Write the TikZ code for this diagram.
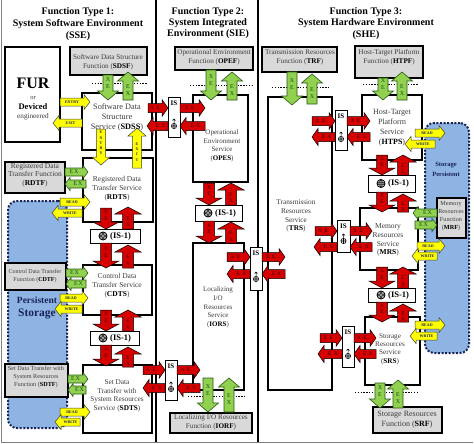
\documentclass[tikz,border=0pt]{standalone}
\usepackage{fontspec}
\setmainfont{Liberation Serif}
\definecolor{redA}{RGB}{215,0,0}
\definecolor{redT}{RGB}{60,0,0}
\definecolor{grnA}{RGB}{146,208,80}
\definecolor{grnD}{RGB}{40,90,20}
\definecolor{grnT}{RGB}{20,80,20}
\definecolor{yelA}{RGB}{255,255,0}
\definecolor{blueA}{RGB}{141,180,226}
\definecolor{navy}{RGB}{25,35,90}
\definecolor{grayF}{RGB}{217,217,217}
\definecolor{txt}{RGB}{60,60,60}
\newcommand\ab[1]{\textbf{\textcolor{black}{#1}}}
\newcommand\MkBox[6]{%
  \pgfmathsetmacro\bw{#5-#3}\pgfmathsetmacro\bh{#6-#4}%
  \node[#2, anchor=north west, minimum width=\bw pt, minimum height=\bh pt, inner sep=0pt, outer sep=0pt] (#1) at (#3,#4) {};%
}
\newcommand\HArrow[8]{%
  \pgfmathsetmacro\xb{#6-(#4)*sign(#6-#5)}%
  \pgfmathsetmacro\xm{(#5+\xb)/2}%
  \draw[#1] (#5,#7-#2) -- (\xb,#7-#2) -- (\xb,#7-#3) -- (#6,#7) -- (\xb,#7+#3) -- (\xb,#7+#2) -- (#5,#7+#2) -- cycle;%
  \node[#1 label] at (\xm,#7) {#8};%
}
\newcommand\VArrow[8]{%
  \pgfmathsetmacro\yb{#7-(#4)*sign(#7-#6)}%
  \pgfmathsetmacro\ym{(#6+\yb)/2}%
  \draw[#1] (#5-#2,#6) -- (#5-#2,\yb) -- (#5-#3,\yb) -- (#5,#7) -- (#5+#3,\yb) -- (#5+#2,\yb) -- (#5+#2,#6) -- cycle;%
  \node[#1 label] at (#5,\ym) {#8};%
}
\newcommand\RH[4]{\HArrow{redarr}{4.5}{8.5}{6}{#1}{#2}{#3}{#4}}
\newcommand\RV[4]{\VArrow{redarr}{5.5}{13}{7}{#1}{#2}{#3}{#4}}
\newcommand\GH[4]{\HArrow{grnarr}{4}{6.5}{5}{#1}{#2}{#3}{#4}}
\newcommand\GV[4]{\VArrow{grnarr}{5}{10.5}{9}{#1}{#2}{#3}{#4}}
\newcommand\YH[4]{\HArrow{yelarr}{4}{7.5}{6}{#1}{#2}{#3}{#4}}
\newcommand\YV[4]{\VArrow{yelarr}{4.5}{9}{8}{#1}{#2}{#3}{#4}}
\newcommand\ISbox[5]{%
  \MkBox{#1}{isbox}{#2}{#3}{#4}{#5}%
  \pgfmathsetmacro\cx{(#2+#4)/2}%
  \node[font=\bfseries\fontsize{7}{7}\selectfont, inner sep=0pt] at (\cx,#3+6) {IS};%
  \pgfmathsetmacro\cy{#5-11}%
  \draw[line width=0.6pt] (\cx,\cy) circle (2.6pt) (\cx-2.6,\cy) -- (\cx+2.6,\cy) (\cx,\cy-2.6) -- (\cx,\cy+2.6);%
  \draw[line width=0.5pt] (\cx,\cy-3) -- (\cx,\cy-7) (\cx-1.5,\cy-5.5) -- (\cx,\cy-7) -- (\cx+1.5,\cy-5.5);%
}
\newcommand\ISone[5]{%
  \MkBox{#1}{isbox}{#2}{#3}{#4}{#5}%
  \pgfmathsetmacro\cy{(#3+#5)/2}%
  \pgfmathsetmacro\sx{#2+13}%
  \draw[line width=0.9pt] (\sx,\cy) circle (4pt);%
  \foreach \dx/\dy in {0/-2,0/2,-2/0,2/0} \draw[line width=0.6pt] (\sx+\dx,\cy+\dy) circle (1.3pt);%
  \node[font=\bfseries\fontsize{8.5}{8.5}\selectfont, inner sep=0pt, anchor=west] at (#2+20,\cy) {(IS-1)};%
}
\begin{document}
\begin{tikzpicture}[x=1pt,y=-1pt,
  sbox/.style={draw=black, fill=white, line width=1.1pt},
  fbox/.style={draw=black, fill=grayF, line width=1.1pt},
  isbox/.style={draw=black, fill=white, line width=1pt},
  redarr/.style={draw=black, fill=redA, line width=0.5pt},
  redarr label/.style={font=\fontsize{5.5}{6.5}\selectfont, text=redT, align=center, inner sep=0pt},
  grnarr/.style={draw=grnD, fill=grnA, line width=0.6pt},
  grnarr label/.style={font=\fontsize{6}{7}\selectfont, text=grnT, align=center, inner sep=0pt},
  yelarr/.style={draw=black!75, fill=yelA, line width=0.5pt},
  yelarr label/.style={font=\bfseries\fontsize{4}{5.3}\selectfont, text=navy, align=center, inner sep=0pt},
  ttl/.style={font=\bfseries\fontsize{10}{12}\selectfont, inner sep=0pt},
  svc/.style={font=\fontsize{7.5}{9}\selectfont, text=txt, align=center, inner sep=0pt},
  fnt/.style={font=\fontsize{7.2}{9}\selectfont, text=txt, align=center, inner sep=0pt},
  dots/.style={line width=1pt, dash pattern=on 1.3pt off 1.5pt},
  store/.style={fill=blueA, draw=navy, line width=2pt, dash pattern=on 2pt off 1.6pt, rounded corners=9pt},
]
\useasboundingbox (0,0) rectangle (474,444);
% frame and column rules
\draw[black!50, line width=0.6pt] (1,0) -- (1,442) -- (473,442);
\draw[line width=1.5pt] (156,0) -- (156,442);
\draw[line width=1.5pt] (258,0) -- (258,442);
% storage regions
\MkBox{ps1}{store}{8}{201}{67}{428}
\MkBox{ps3}{store}{425}{123}{469}{353}
% titles
\node[ttl] (t1a) at (78,12) {Function Type 1:};
\node[ttl] (t1b) at (78,24) {System Software Environment};
\node[ttl] (t1c) at (78,36) {(SSE)};
\node[ttl] (t2a) at (208,12) {Function Type 2:};
\node[ttl] (t2b) at (208,23) {System Integrated};
\node[ttl] (t2c) at (208,34) {Environment (SIE)};
\node[ttl] (t3a) at (366,12) {Function Type 3:};
\node[ttl] (t3b) at (366,23.5) {System Hardware Environment};
\node[ttl] (t3c) at (366,35) {(SHE)};
% service boxes
\MkBox{fur}{sbox}{5}{47}{60}{142}
\MkBox{sdss}{sbox}{82}{93}{152}{150}
\MkBox{rdts}{sbox}{83}{158}{153}{222}
\MkBox{cdts}{sbox}{83}{265}{152}{315}
\MkBox{sdts}{sbox}{83}{365}{152}{433}
\MkBox{opes}{sbox}{193}{95}{248}{182}
\MkBox{iors}{sbox}{193}{243}{244}{390}
\MkBox{trs}{sbox}{268}{97}{332}{390}
\MkBox{htps}{sbox}{362}{95}{422}{160}
\MkBox{mrs}{sbox}{360}{208}{418}{270}
\MkBox{srs}{sbox}{365}{317}{420}{385}
% function boxes
\MkBox{sdsf}{fbox}{70}{47}{147}{75}
\MkBox{opef}{fbox}{175}{47}{253}{70}
\MkBox{trf}{fbox}{262}{47}{337}{72}
\MkBox{htpf}{fbox}{355}{46}{423}{78}
\MkBox{rdtf}{fbox}{5}{162}{65}{193}
\MkBox{cdtf}{fbox}{5}{263}{66}{290}
\MkBox{sdtf}{fbox}{5}{364}{68}{397}
\MkBox{mrf}{fbox}{437}{198}{466}{238}
\MkBox{iorf}{fbox}{170}{413}{252}{433}
\MkBox{srf}{fbox}{373}{407}{442}{433}
% dotted boundaries
\draw[dots] (92,84) -- (147,84);
\draw[dots] (190,86) -- (252,86);
\draw[dots] (272,88) -- (330,88);
\draw[dots] (363,85) -- (418,85);
\draw[dots] (188,396) -- (245,396);
\draw[dots] (355,392) -- (418,392);
% IS and IS-1 boxes
\ISbox{is1}{168}{97}{180}{137}
\ISbox{is2}{165}{360}{177}{400}
\ISbox{is3}{250}{247}{262}{290}
\ISbox{is4}{335}{110}{347}{150}
\ISbox{is5}{337}{220}{350}{252}
\ISbox{is6}{342}{326}{354}{367}
\ISone{isa}{90}{229}{140}{243}
\ISone{isb}{90}{331}{139}{345}
\ISone{isc}{195}{205}{242}{221}
\ISone{isd}{368}{175}{415}{192}
\ISone{ise}{368}{288}{415}{302}
% green arrows
\GV{108}{75}{100}{X\\E}\GV{128}{100}{72}{E\\X}
\GV{211}{70}{100}{X\\E}\GV{232}{100}{72}{E\\X}
\GV{292}{72}{105}{X\\E}\GV{312}{104}{74}{E\\X}
\GV{383}{78}{100}{X\\E}\GV{402}{100}{72}{E\\X}
\GV{208}{378}{412}{X\\E}\GV{229}{412}{378}{E\\X}
\GV{380}{383}{408}{X\\E}\GV{398}{408}{380}{E\\X}
\GH{65}{88}{172}{E\,X}\GH{86}{65}{184}{E\,X}
\GH{66}{88}{273}{E\,X}\GH{86}{66}{284}{E\,X}
\GH{68}{88}{379}{E\,X}\GH{86}{68}{390}{E\,X}
\GH{437}{413}{213}{E\,X}\GH{415}{437}{225}{E\,X}
% red arrows, vertical
\RV{106}{208}{229}{X\\E}\RV{128}{229}{207}{E\\X}
\RV{106}{243}{268}{X\\E}\RV{128}{268}{245}{E\\X}
\RV{106}{310}{331}{X\\E}\RV{128}{331}{310}{E\\X}
\RV{106}{345}{366}{X\\E}\RV{128}{367}{347}{E\\X}
\RV{209}{183}{205}{X\\E}\RV{231}{205}{183}{E\\X}
\RV{209}{221}{243}{X\\E}\RV{231}{243}{222}{E\\X}
\RV{382}{155}{175}{X\\E}\RV{403}{175}{155}{E\\X}
\RV{382}{192}{212}{X\\E}\RV{403}{212}{194}{E\\X}
\RV{382}{267}{288}{X\\E}\RV{403}{288}{267}{E\\X}
\RV{382}{302}{322}{X\\E}\RV{403}{322}{304}{E\\X}
% red arrows, horizontal
\RH{148}{168}{108}{X\hspace{2.5pt}E}\RH{168}{147}{126}{E\hspace{2.5pt}X}
\RH{180}{205}{108}{X\hspace{2.5pt}E}\RH{205}{180}{126}{E\hspace{2.5pt}X}
\RH{143}{165}{370}{X\hspace{2.5pt}E}\RH{165}{143}{388}{E\hspace{2.5pt}X}
\RH{177}{200}{370}{X\hspace{2.5pt}E}\RH{200}{177}{388}{E\hspace{2.5pt}X}
\RH{227}{250}{257}{X\hspace{2.5pt}E}\RH{250}{227}{274}{E\hspace{2.5pt}X}
\RH{262}{285}{257}{X\hspace{2.5pt}E}\RH{285}{262}{274}{E\hspace{2.5pt}X}
\RH{312}{335}{121}{X\hspace{2.5pt}E}\RH{335}{312}{137}{E\hspace{2.5pt}X}
\RH{347}{370}{121}{X\hspace{2.5pt}E}\RH{370}{347}{137}{E\hspace{2.5pt}X}
\RH{315}{337}{231}{X\hspace{2.5pt}E}\RH{337}{314}{247}{E\hspace{2.5pt}X}
\RH{350}{372}{231}{X\hspace{2.5pt}E}\RH{372}{350}{247}{E\hspace{2.5pt}X}
\RH{320}{342}{338}{X\hspace{2.5pt}E}\RH{342}{318}{354}{E\hspace{2.5pt}X}
\RH{354}{376}{338}{X\hspace{2.5pt}E}\RH{376}{354}{354}{E\hspace{2.5pt}X}
% yellow arrows
\YH{60}{90}{102}{ENTRY}\YH{82}{53}{123}{EXIT}
\YV{101}{129}{165}{E\\N\\T\\R\\Y}\YV{137}{168}{128}{E\\X\\I\\T}
\YH{60}{90}{202}{READ}\YH{82}{52}{213}{WRITE}
\YH{60}{88}{298}{READ}\YH{82}{55}{309}{WRITE}
\YH{60}{90}{412}{READ}\YH{80}{55}{422}{WRITE}
\YH{415}{445}{133}{READ}\YH{435}{405}{144}{WRITE}
\YH{417}{445}{246}{READ}\YH{437}{412}{256}{WRITE}
\YH{415}{445}{325}{READ}\YH{437}{410}{336}{WRITE}
% texts
\node[inner sep=0pt, font=\bfseries\fontsize{16}{16}\selectfont] (furT) at (33,83) {FUR};
\node[inner sep=0pt, font=\fontsize{6.5}{7}\selectfont, text=txt] (orT) at (33,98) {or};
\node[inner sep=0pt, font=\bfseries\fontsize{8.5}{9}\selectfont] (devT) at (33,107) {Deviced};
\node[inner sep=0pt, font=\fontsize{7.2}{8}\selectfont, text=txt] (engT) at (33,117) {engineered};
\node[svc, font=\fontsize{8.3}{10}\selectfont] (sdssT) at (117,117) {Software Data\\Structure\\Service (\ab{SDSS})};
\node[svc] (rdtsT) at (117,189) {Registered Data\\Transfer Service\\(\ab{RDTS})};
\node[svc] (cdtsT) at (117,286) {Control Data\\Transfer Service\\(\ab{CDTS})};
\node[svc, font=\fontsize{7.3}{8.5}\selectfont] (sdtsT) at (117,396) {Set Data\\Transfer with\\System Resources\\Service (\ab{SDTS})};
\node[svc, font=\fontsize{7}{8.5}\selectfont] (opesT) at (222,146) {Operational\\Environment\\Service\\(\ab{OPES})};
\node[svc, font=\fontsize{7}{8.7}\selectfont] (iorsT) at (218,307.5) {Localizing\\I/O\\Resources\\Service\\(\ab{IORS})};
\node[svc, font=\fontsize{7.3}{8.8}\selectfont] (trsT) at (296,216) {Transmission\\Resources\\Service\\(\ab{TRS})};
\node[svc, font=\fontsize{8}{10}\selectfont] (htpsT) at (392,128) {Host-Target\\Platform\\Service\\(\ab{HTPS})};
\node[svc, font=\fontsize{7.5}{8.8}\selectfont] (mrsT) at (388,240) {Memory\\Resources\\Service\\(\ab{MRS})};
\node[svc, font=\fontsize{7.2}{8.4}\selectfont] (srsT) at (390,349) {Storage\\Resources\\Service\\(\ab{SRS})};
\node[fnt] (sdsfT) at (108,62) {Software Data Structure\\Function (\ab{SDSF})};
\node[fnt] (opefT) at (214,57) {Operational Environment\\Function (\ab{OPEF})};
\node[fnt] (trfT) at (300,57) {Transmission Resources\\Function (\ab{TRF})};
\node[fnt] (htpfT) at (389,57) {Host-Target Platform\\Function (\ab{HTPF})};
\node[fnt, font=\fontsize{7.5}{8.8}\selectfont] (rdtfT) at (35,175) {Registered Data\\Transfer Function\\(\ab{RDTF})};
\node[fnt, font=\fontsize{6}{8.5}\selectfont] (cdtfT) at (35,276) {Control Data Transfer\\Function (\ab{CDTF})};
\node[fnt, font=\fontsize{6.2}{8}\selectfont] (sdtfT) at (36,377) {Set Data Transfer with\\System Resources\\Function (\ab{SDTF})};
\node[fnt, font=\fontsize{6.2}{8}\selectfont] (mrfT) at (451,216) {Memory\\Resources\\Function\\(\ab{MRF})};
\node[fnt] (iorfT) at (211,422.5) {Localizing I/O Resources\\Function (\ab{IORF})};
\node[fnt, font=\fontsize{8}{10}\selectfont] (srfT) at (407,419.5) {Storage Resources\\Function (\ab{SRF})};
\node[inner sep=0pt, text=navy, font=\bfseries\fontsize{9.5}{10}\selectfont] (ps1a) at (37,300) {Persistent};
\node[inner sep=0pt, text=navy, font=\bfseries\fontsize{11.5}{12}\selectfont] (ps1b) at (37,314) {Storage};
\node[inner sep=0pt, text=navy, font=\bfseries\fontsize{6.5}{7}\selectfont] (ps3a) at (446,165) {Storage};
\node[inner sep=0pt, text=navy, font=\bfseries\fontsize{6.5}{7}\selectfont] (ps3b) at (446,174) {Persistent};
\end{tikzpicture}
\end{document}
